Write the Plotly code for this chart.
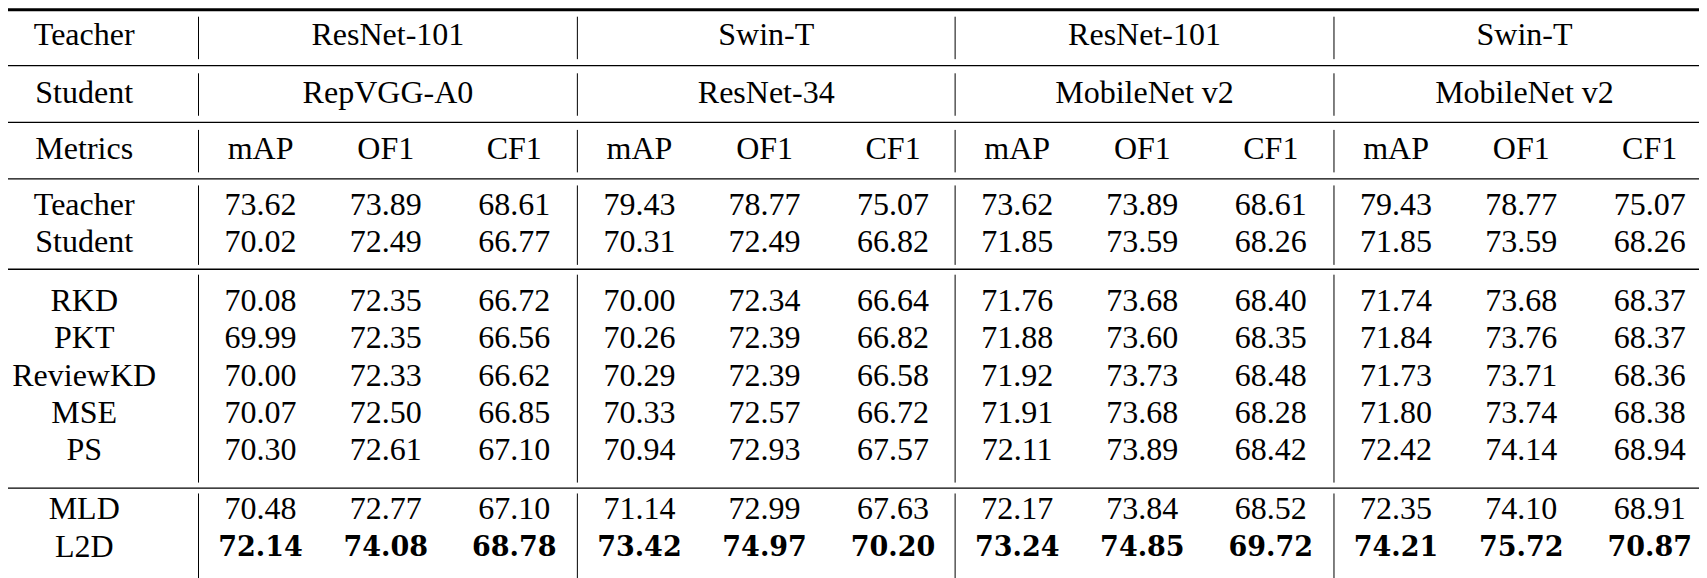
import plotly.graph_objects as go

teachers = ["ResNet-101", "Swin-T", "ResNet-101", "Swin-T"]
students = ["RepVGG-A0", "ResNet-34", "MobileNet v2", "MobileNet v2"]
metrics = ["mAP", "OF1", "CF1"]

methods = ["Teacher", "Student", "RKD", "PKT", "ReviewKD", "MSE", "PS", "MLD", "L2D"]
scores = [
    ["73.62", "73.89", "68.61", "79.43", "78.77", "75.07", "73.62", "73.89", "68.61", "79.43", "78.77", "75.07"],
    ["70.02", "72.49", "66.77", "70.31", "72.49", "66.82", "71.85", "73.59", "68.26", "71.85", "73.59", "68.26"],
    ["70.08", "72.35", "66.72", "70.00", "72.34", "66.64", "71.76", "73.68", "68.40", "71.74", "73.68", "68.37"],
    ["69.99", "72.35", "66.56", "70.26", "72.39", "66.82", "71.88", "73.60", "68.35", "71.84", "73.76", "68.37"],
    ["70.00", "72.33", "66.62", "70.29", "72.39", "66.58", "71.92", "73.73", "68.48", "71.73", "73.71", "68.36"],
    ["70.07", "72.50", "66.85", "70.33", "72.57", "66.72", "71.91", "73.68", "68.28", "71.80", "73.74", "68.38"],
    ["70.30", "72.61", "67.10", "70.94", "72.93", "67.57", "72.11", "73.89", "68.42", "72.42", "74.14", "68.94"],
    ["70.48", "72.77", "67.10", "71.14", "72.99", "67.63", "72.17", "73.84", "68.52", "72.35", "74.10", "68.91"],
    ["72.14", "74.08", "68.78", "73.42", "74.97", "70.20", "73.24", "74.85", "69.72", "74.21", "75.72", "70.87"],
]

# geometry (axis units)
label_x = 70
vlines = [175, 523, 870, 1218]
col_off = [57, 172, 290]
header_y = [27, 80, 131]
row_y = [183, 217, 271, 305, 340, 374, 408, 462, 497]
FONT = "Liberation Serif, Times New Roman, serif"

fig = go.Figure()

def text_row(xs, y, labels, bold=False):
    fig.add_trace(go.Scatter(
        x=xs, y=[y] * len(xs), text=labels, mode="text",
        textposition="middle center", hoverinfo="skip",
        textfont=dict(family="DejaVu Serif, serif" if bold else FONT,
                      size=27 if bold else 32, color="black",
                      weight="bold" if bold else "normal")))

group_mid = [(vlines[i] + (vlines[i + 1] if i < 3 else 1568)) / 2 for i in range(4)]
data_x = [v + o for v in vlines for o in col_off]

text_row([label_x] + group_mid, header_y[0], ["Teacher"] + teachers)
text_row([label_x] + group_mid, header_y[1], ["Student"] + students)
text_row([label_x] + data_x, header_y[2], ["Metrics"] + metrics * 4)
for m, vals, y in zip(methods, scores, row_y):
    text_row([label_x], y, [m])
    text_row(data_x, y, vals, bold=(m == "L2D"))

# horizontal rules
for y, w in [(1.5, 3), (53, 1.3), (105, 1.3), (157, 1.3), (240, 1.3), (441, 1.3), (529, 3)]:
    fig.add_shape(type="line", x0=0, x1=1568, y0=y, y1=y, line=dict(color="black", width=w))
# vertical separators
for y0, y1 in [(8, 47), (60, 99), (112, 151), (163, 236), (245, 436), (446, 524)]:
    for v in vlines:
        fig.add_shape(type="line", x0=v, x1=v, y0=y0, y1=y1, line=dict(color="black", width=1))

fig.update_layout(
    width=1707, height=578, margin=dict(l=0, r=0, t=0, b=0),
    showlegend=False, plot_bgcolor="white", paper_bgcolor="white",
    xaxis=dict(range=[0, 1568], visible=False, fixedrange=True),
    yaxis=dict(range=[531, 0], visible=False, fixedrange=True),
)
fig.write_html("out.html")
